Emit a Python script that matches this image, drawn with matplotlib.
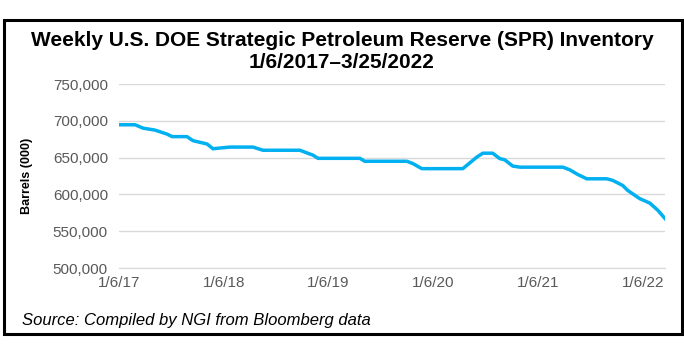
import matplotlib
matplotlib.use("Agg")
import matplotlib.pyplot as plt
from matplotlib.patches import Rectangle
import pandas as pd

# weekly SPR inventory, thousand barrels
dates = ["2017-01-06", "2017-03-03", "2017-03-31", "2017-05-11", "2017-06-22",
         "2017-07-10", "2017-08-31", "2017-09-21", "2017-11-09", "2017-11-30",
         "2017-12-24", "2018-01-28", "2018-04-18", "2018-05-23", "2018-09-29",
         "2018-10-23", "2018-11-13", "2018-12-01", "2019-04-26", "2019-05-13",
         "2019-10-07", "2019-10-28", "2019-11-28", "2020-04-19", "2020-05-13",
         "2020-06-07", "2020-06-28", "2020-08-01", "2020-08-26", "2020-09-12",
         "2020-10-10", "2020-11-04", "2021-04-03", "2021-04-27", "2021-05-25",
         "2021-06-25", "2021-09-03", "2021-09-24", "2021-10-29", "2021-11-15",
         "2021-12-27", "2022-01-31", "2022-02-28", "2022-03-25"]
barrels = [694600, 694600, 690000, 687400, 682000,
           678500, 678500, 673000, 668500, 662000,
           663000, 664300, 664300, 660000, 660000,
           656400, 653400, 649000, 649000, 645000,
           645000, 641800, 635000, 635000, 642700,
           650800, 656000, 656000, 648600, 647000,
           638500, 637000, 637000, 633400, 627000,
           621200, 621200, 619000, 612000, 605400,
           594200, 588200, 578400, 567200]

tick_dates = ["2017-01-06", "2018-01-06", "2019-01-06", "2020-01-06", "2021-01-06", "2022-01-06"]
tick_labels = ["1/6/17", "1/6/18", "1/6/19", "1/6/20", "1/6/21", "1/6/22"]
y_ticks = [500000, 550000, 600000, 650000, 700000, 750000]

plt.rcParams['font.family'] = ['Liberation Sans', 'DejaVu Sans']

fig = plt.figure(figsize=(6.84, 3.54), dpi=100)
W, H = 684, 354

# outer frame
fig.patches.append(Rectangle((3.5 / W, 1 - 333.5 / H), 678 / W, 313.5 / H,
                             transform=fig.transFigure, fill=False,
                             edgecolor="black", linewidth=2.2))

ax = fig.add_axes([119 / W, 1 - 268 / H, 546 / W, 184 / H])
x = pd.to_datetime(dates)
ax.plot(x, barrels, color="#00B0F0", linewidth=2.5, solid_joinstyle="round")

ax.set_xlim(pd.Timestamp("2017-01-06"), pd.Timestamp("2022-03-25"))
ax.set_ylim(500000, 750000)
ax.set_yticks(y_ticks)
ax.set_yticklabels([f"{v:,}" for v in y_ticks])
ax.set_xticks(pd.to_datetime(tick_dates))
ax.set_xticklabels(tick_labels)

ax.grid(axis="y", color="#d9d9d9", linewidth=1)
ax.set_axisbelow(True)
for s in ["top", "right", "left"]:
    ax.spines[s].set_visible(False)
ax.spines["bottom"].set_color("#d9d9d9")
ax.tick_params(axis="both", length=0, labelsize=11, labelcolor="#595959")
ax.tick_params(axis="y", pad=8)
ax.tick_params(axis="x", pad=6)

ax.set_ylabel("Barrels (000)", fontsize=9, fontweight="bold")
ax.yaxis.set_label_coords(-0.158, 0.5)

fig.text(0.5, 1 - 40 / H, "Weekly U.S. DOE Strategic Petroleum Reserve (SPR) Inventory",
         ha="center", va="center", fontsize=15, fontweight="bold")
fig.text(0.5, 1 - 62 / H, "1/6/2017\u20133/25/2022",
         ha="center", va="center", fontsize=15, fontweight="bold")
fig.text(22 / W, 1 - 320 / H, "Source: Compiled by NGI from Bloomberg data",
         ha="left", va="center", fontsize=12, fontstyle="italic")

fig.savefig("out.png", dpi=100)
